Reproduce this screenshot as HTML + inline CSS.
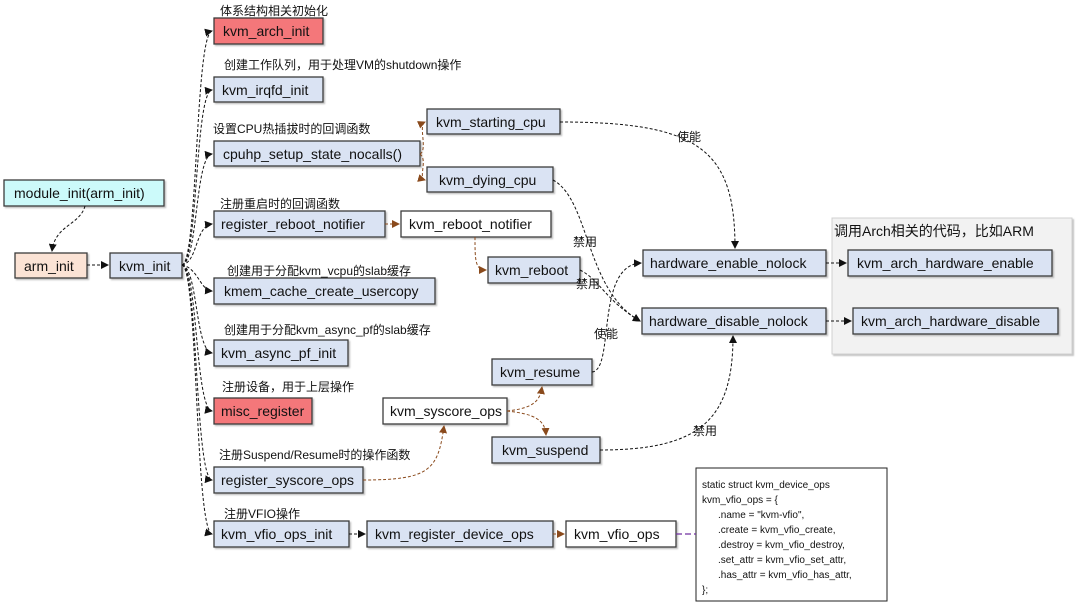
<!DOCTYPE html>
<html><head><meta charset="utf-8"><style>
body{margin:0;background:#fff;}
svg text{font-family:"Liberation Sans","Noto Sans CJK SC",sans-serif;}
.b{stroke:#3a3a3a;stroke-width:1.3;}
.t{font-size:14px;fill:#111;}
.l{font-size:12px;fill:#111;}
.k{fill:none;stroke:#111;stroke-width:1;stroke-dasharray:3,2;}
.r{fill:none;stroke:#8a4a1c;stroke-width:1;stroke-dasharray:3,2;}
</style></head><body>
<svg width="1077" height="609" viewBox="0 0 1077 609" xmlns="http://www.w3.org/2000/svg">
<defs>
<marker id="a" markerWidth="8" markerHeight="8" refX="7" refY="4" orient="auto" markerUnits="userSpaceOnUse"><path d="M0,0 L8,4 L0,8z" fill="#111"/></marker>
<marker id="ab" markerWidth="8" markerHeight="8" refX="7" refY="4" orient="auto" markerUnits="userSpaceOnUse"><path d="M0,0 L8,4 L0,8z" fill="#8a4a1c"/></marker>
<filter id="s" x="-5%" y="-10%" width="115%" height="140%"><feDropShadow dx="1.5" dy="1.5" stdDeviation="0.8" flood-color="#999" flood-opacity="0.6"/></filter>
</defs>
<!-- grey panel -->
<rect x="832" y="218" width="240" height="136" fill="#f2f2f2" stroke="#d0d0d0" filter="url(#s)"/>
<text x="834" y="236" style="font-size:14px;fill:#111">调用Arch相关的代码，比如ARM</text>

<g filter="url(#s)">
<rect class="b" x="4" y="180" width="160" height="26" fill="#ccfafa"/>
<rect class="b" x="15" y="253" width="72" height="25" fill="#fbe3d5"/>
<rect class="b" x="110" y="253" width="72" height="25" fill="#dae3f3"/>
<rect class="b" x="214" y="18" width="109" height="26" fill="#f4777a"/>
<rect class="b" x="214" y="77" width="109" height="25" fill="#dae3f3"/>
<rect class="b" x="214" y="141" width="206" height="25" fill="#dae3f3"/>
<rect class="b" x="427" y="109" width="133" height="25" fill="#dae3f3"/>
<rect class="b" x="427" y="167" width="126" height="25" fill="#dae3f3"/>
<rect class="b" x="214" y="211" width="171" height="26" fill="#dae3f3"/>
<rect class="b" x="401" y="211" width="150" height="26" fill="#fff"/>
<rect class="b" x="488" y="257" width="92" height="26" fill="#dae3f3"/>
<rect class="b" x="214" y="278" width="221" height="26" fill="#dae3f3"/>
<rect class="b" x="214" y="340" width="134" height="26" fill="#dae3f3"/>
<rect class="b" x="214" y="398" width="98" height="26" fill="#f4777a"/>
<rect class="b" x="383" y="398" width="124" height="26" fill="#fff"/>
<rect class="b" x="492" y="359" width="100" height="26" fill="#dae3f3"/>
<rect class="b" x="492" y="437" width="108" height="26" fill="#dae3f3"/>
<rect class="b" x="214" y="467" width="149" height="26" fill="#dae3f3"/>
<rect class="b" x="214" y="521" width="135" height="26" fill="#dae3f3"/>
<rect class="b" x="367" y="521" width="186" height="26" fill="#dae3f3"/>
<rect class="b" x="566" y="521" width="110" height="26" fill="#fff"/>
<rect class="b" x="643" y="250" width="183" height="26" fill="#dae3f3"/>
<rect class="b" x="642" y="308" width="184" height="26" fill="#dae3f3"/>
<rect class="b" x="848" y="250" width="204" height="26" fill="#dae3f3"/>
<rect class="b" x="853" y="308" width="205" height="26" fill="#dae3f3"/>
</g>
<rect x="696" y="468" width="191" height="133" fill="#fff" stroke="#222" stroke-width="1"/>

<g class="t">
<text x="14" y="198">module_init(arm_init)</text>
<text x="24" y="271">arm_init</text>
<text x="119" y="271">kvm_init</text>
<text x="223" y="36">kvm_arch_init</text>
<text x="222" y="95">kvm_irqfd_init</text>
<text x="223" y="159">cpuhp_setup_state_nocalls()</text>
<text x="436" y="127">kvm_starting_cpu</text>
<text x="439" y="185">kvm_dying_cpu</text>
<text x="221" y="229">register_reboot_notifier</text>
<text x="409" y="229">kvm_reboot_notifier</text>
<text x="495" y="275">kvm_reboot</text>
<text x="224" y="296">kmem_cache_create_usercopy</text>
<text x="221" y="358">kvm_async_pf_init</text>
<text x="221" y="416">misc_register</text>
<text x="390" y="416">kvm_syscore_ops</text>
<text x="500" y="377">kvm_resume</text>
<text x="502" y="455">kvm_suspend</text>
<text x="221" y="485">register_syscore_ops</text>
<text x="221" y="539">kvm_vfio_ops_init</text>
<text x="375" y="539">kvm_register_device_ops</text>
<text x="574" y="539">kvm_vfio_ops</text>
<text x="650" y="268">hardware_enable_nolock</text>
<text x="649" y="326">hardware_disable_nolock</text>
<text x="857" y="268">kvm_arch_hardware_enable</text>
<text x="861" y="326">kvm_arch_hardware_disable</text>
</g>
<g class="l">
<text x="220" y="15">体系结构相关初始化</text>
<text x="224" y="69">创建工作队列，用于处理VM的shutdown操作</text>
<text x="213" y="133">设置CPU热插拔时的回调函数</text>
<text x="220" y="208">注册重启时的回调函数</text>
<text x="227" y="275">创建用于分配kvm_vcpu的slab缓存</text>
<text x="224" y="334">创建用于分配kvm_async_pf的slab缓存</text>
<text x="222" y="391">注册设备，用于上层操作</text>
<text x="219" y="459">注册Suspend/Resume时的操作函数</text>
<text x="224" y="518">注册VFIO操作</text>
<text x="677" y="141">使能</text>
<text x="573" y="246">禁用</text>
<text x="576" y="288">禁用</text>
<text x="594" y="338">使能</text>
<text x="693" y="435">禁用</text>
</g>
<g style="font-size:10px;fill:#111">
<text x="702" y="488">static struct kvm_device_ops</text>
<text x="702" y="503">kvm_vfio_ops = {</text>
<text x="718" y="518">.name = "kvm-vfio",</text>
<text x="718" y="533">.create = kvm_vfio_create,</text>
<text x="718" y="548">.destroy = kvm_vfio_destroy,</text>
<text x="718" y="563">.set_attr = kvm_vfio_set_attr,</text>
<text x="718" y="578">.has_attr = kvm_vfio_has_attr,</text>
<text x="702" y="593">};</text>
</g>

<!-- black connectors -->
<path class="k" d="M85,206 C80,225 55,225 52,251" marker-end="url(#a)"/>
<path class="k" d="M87,265 L108,265" marker-end="url(#a)"/>
<g class="k">
<path d="M182,265 C198,262 195,35 212,31" marker-end="url(#a)"/>
<path d="M182,265 C198,262 195,92 212,90" marker-end="url(#a)"/>
<path d="M182,265 C198,262 195,156 212,154" marker-end="url(#a)"/>
<path d="M182,265 C198,262 195,226 212,224" marker-end="url(#a)"/>
<path d="M182,265 C198,268 200,290 212,291" marker-end="url(#a)"/>
<path d="M182,265 C198,268 195,350 212,353" marker-end="url(#a)"/>
<path d="M182,265 C198,268 195,408 212,411" marker-end="url(#a)"/>
<path d="M182,265 C198,268 195,478 212,480" marker-end="url(#a)"/>
<path d="M182,265 C198,268 195,530 212,534" marker-end="url(#a)"/>
<path d="M560,122 C700,122 735,150 735,248" marker-end="url(#a)"/>
<path d="M553,180 C590,200 585,290 640,321" marker-end="url(#a)"/>
<path d="M580,270 C600,280 605,300 640,321" marker-end="url(#a)"/>
<path d="M592,372 C615,370 595,265 641,263" marker-end="url(#a)"/>
<path d="M600,450 C700,450 733,420 733,336" marker-end="url(#a)"/>
<path d="M826,263 L846,263" marker-end="url(#a)"/>
<path d="M826,321 L851,321" marker-end="url(#a)"/>
<path d="M349,534 L365,534" marker-end="url(#a)"/>
</g>
<!-- brown connectors -->
<g class="r">
<path d="M420,154 C428,150 418,125 425,122" marker-end="url(#ab)"/>
<path d="M420,154 C428,160 418,178 425,180" marker-end="url(#ab)"/>
<path d="M385,224 L399,224" marker-end="url(#ab)"/>
<path d="M475,237 C475,260 475,270 486,270" marker-end="url(#ab)"/>
<path d="M507,411 C535,408 540,400 542,387" marker-end="url(#ab)"/>
<path d="M507,411 C535,414 545,420 546,435" marker-end="url(#ab)"/>
<path d="M363,480 C430,480 438,470 444,426" marker-end="url(#ab)"/>
<path d="M553,534 L564,534" marker-end="url(#ab)"/>
</g>
<path d="M676,534 L696,534" stroke="#7030a0" stroke-width="1.2" stroke-dasharray="6,3" fill="none"/>
</svg>
</body></html>
